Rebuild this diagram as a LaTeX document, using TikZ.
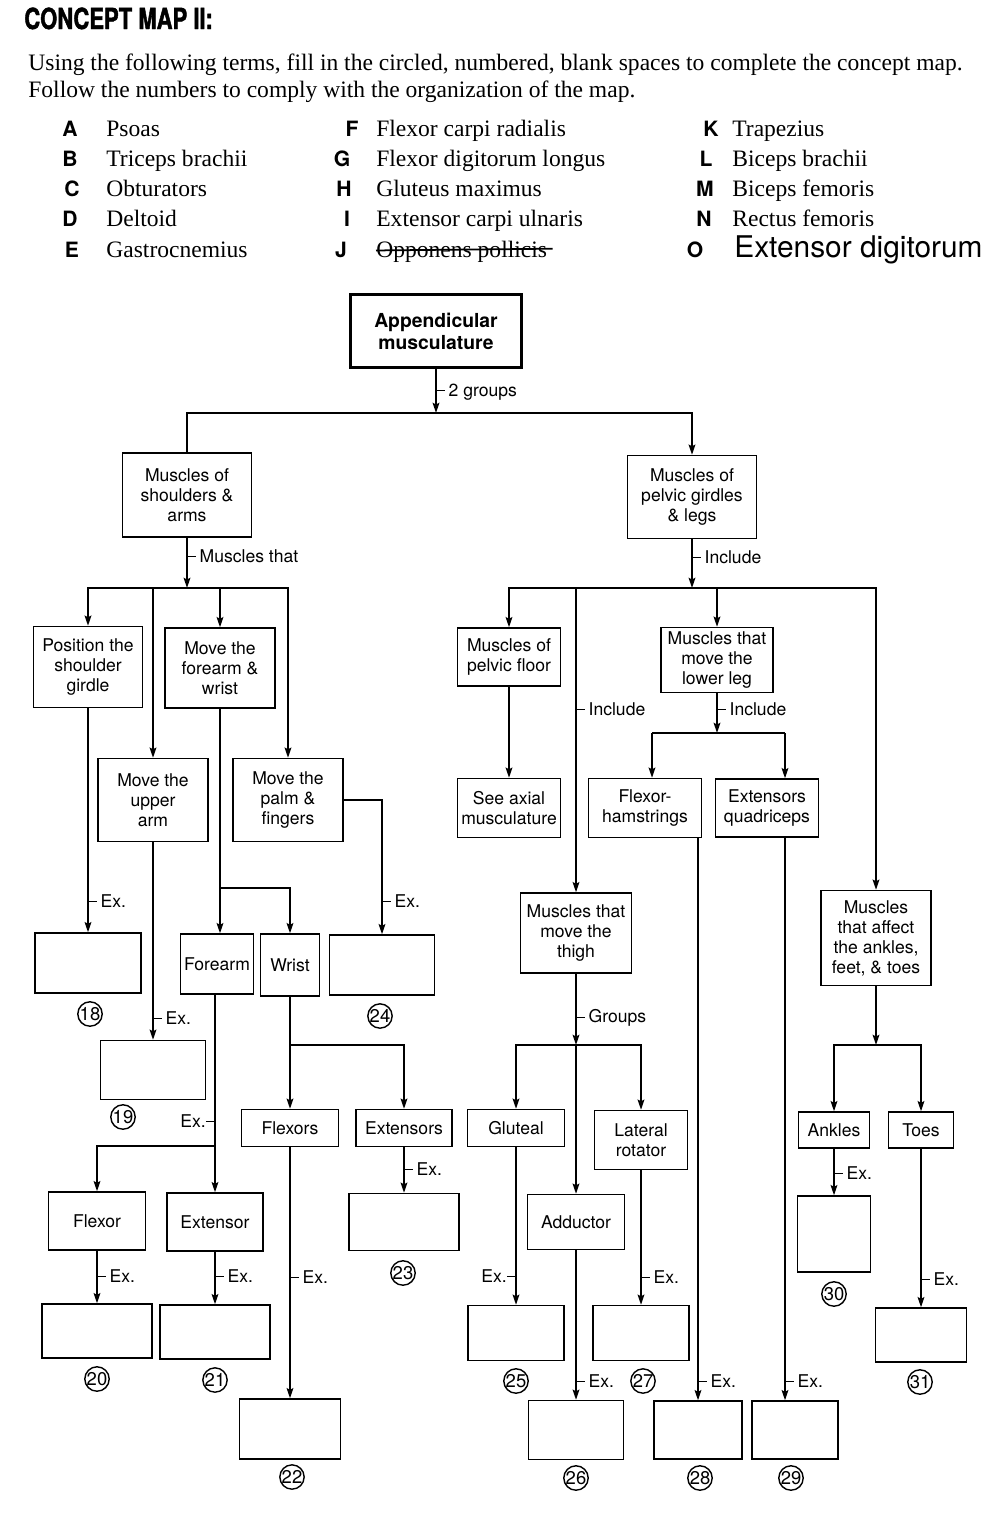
\documentclass[tikz,border=0pt]{standalone}
\usepackage{fontspec}
\usetikzlibrary{arrows.meta}
\setmainfont{Liberation Serif}
\newfontfamily\hv{TeX Gyre Heros}
\newfontfamily\hd[FakeStretch=0.76,BoldFeatures={FakeBold=1.5}]{TeX Gyre Heros}
\newcommand{\tk}{\rule[0.55ex]{5pt}{0.6pt}\hspace{2pt}}
\newcommand{\bx}{\hv\fontsize{10}{11.4}\selectfont}

\begin{document}
\begin{tikzpicture}[x=0.02cm, y=-0.02cm, >={Stealth[length=5.8pt,width=3.8pt,inset=1pt]},
    box/.style={draw, line width=0.8pt, align=center, inner sep=0pt, font=\bx},
    sz/.style 2 args={minimum width=#1*0.02cm, minimum height=#2*0.02cm},
    blank/.style={draw, line width=0.8pt, inner sep=0pt},
    num/.style={draw, circle, line width=0.8pt, inner sep=0pt, minimum size=0.48cm, font=\hv\fontsize{10.5}{10.5}\selectfont},
    ex/.style={anchor=west, inner sep=0pt, font=\bx},
    exl/.style={anchor=east, inner sep=0pt, font=\bx},
    con/.style={line width=1.1pt},
    term/.style={anchor=base west, inner sep=0pt, font=\fontsize{13.4}{15}\selectfont},
    ltr/.style={anchor=base, inner sep=0pt, font=\hv\bfseries\fontsize{12}{12}\selectfont}]
\useasboundingbox (0,0) rectangle (992,1518);

% Encabezado
\node[anchor=base west, inner sep=0pt, font=\hd\bfseries\fontsize{16.5}{16}\selectfont] (tit) at (24,29) {CONCEPT MAP II:};
\node[term] (ins1) at (28,70) {Using the following terms, fill in the circled, numbered, blank spaces to complete the concept map.};
\node[term] (ins2) at (28,97) {Follow the numbers to comply with the organization of the map.};

% Términos
\node[ltr] (la) at (70,136) {A};  \node[term] (ta) at (106,136) {Psoas};
\node[ltr] (lb) at (70,166) {B};  \node[term] (tb) at (106,166) {Triceps brachii};
\node[ltr] (lc) at (72,196) {C};  \node[term] (tc) at (106,196) {Obturators};
\node[ltr] (ld) at (70,226) {D};  \node[term] (td) at (106,226) {Deltoid};
\node[ltr] (le) at (72,257) {E};  \node[term] (te) at (106,257) {Gastrocnemius};
\node[ltr] (lf) at (352,136) {F}; \node[term] (tf) at (376,136) {Flexor carpi radialis};
\node[ltr] (lg) at (342,166) {G}; \node[term] (tg) at (376,166) {Flexor digitorum longus};
\node[ltr] (lh) at (344,196) {H}; \node[term] (th) at (376,196) {Gluteus maximus};
\node[ltr] (li) at (347,226) {I}; \node[term] (ti) at (376,226) {Extensor carpi ulnaris};
\node[ltr] (lj) at (341,257) {J}; \node[term] (tj) at (376,257) {Opponens pollicis};
\draw[line width=1pt] ([yshift=0.5pt]tj.west) -- ([xshift=3pt,yshift=1.5pt]tj.east);
\node[ltr] (lk) at (711,136) {K}; \node[term] (tk) at (732,136) {Trapezius};
\node[ltr] (ll) at (706,166) {L}; \node[term] (tl) at (732,166) {Biceps brachii};
\node[ltr] (lm) at (705,196) {M}; \node[term] (tm) at (732,196) {Biceps femoris};
\node[ltr] (ln) at (704,226) {N}; \node[term] (tn) at (732,226) {Rectus femoris};
\node[ltr] (lo) at (695,257) {O}; \node[anchor=base west, inner sep=0pt, font=\hv\fontsize{17}{17}\selectfont] (to) at (734,257) {Extensor digitorum};

% Cajas de texto
\node[box, sz={171}{73}, line width=1.8pt, font=\hv\bfseries\fontsize{11}{12.5}\selectfont] (app) at (436,331) {Appendicular\\musculature};
\node[box, sz={129}{84}] (sa) at (187,495) {Muscles of\\shoulders \&\\arms};
\node[box, sz={129}{83}] (pg) at (692,497) {Muscles of\\pelvic girdles\\\& legs};
\node[box, sz={109}{81}] (psg) at (88,667) {Position the\\shoulder\\girdle};
\node[box, sz={110}{80}] (mfw) at (220,668) {Move the\\forearm \&\\wrist};
\node[box, sz={110}{83}] (mua) at (153,800) {Move the\\upper\\arm};
\node[box, sz={110}{83}] (mpf) at (288,800) {Move the\\palm \&\\fingers};
\node[box, sz={73}{60}] (fa) at (217,964) {Forearm};
\node[box, sz={59}{62}] (wr) at (290,965) {Wrist};
\node[box, sz={97}{58}] (flx) at (97,1221) {Flexor};
\node[box, sz={96}{58}] (ext) at (215,1222) {Extensor};
\node[box, sz={97}{37}] (fls) at (290,1128) {Flexors};
\node[box, sz={96}{37}] (exs) at (404,1128) {Extensors};
\node[box, sz={103}{58}] (pfl) at (509,657) {Muscles of\\pelvic floor};
\node[box, sz={112}{65}] (mll) at (717,660) {Muscles that\\move the\\lower leg};
\node[box, sz={103}{59}] (sax) at (509,808) {See axial\\musculature};
\node[box, sz={113}{59}] (fh) at (645,808) {Flexor-\\hamstrings};
\node[box, sz={103}{58}] (eq) at (767,808) {Extensors\\quadriceps};
\node[box, sz={111}{80}] (mth) at (576,933) {Muscles that\\move the\\thigh};
\node[box, sz={110}{95}] (maf) at (876,938) {Muscles\\that affect\\the ankles,\\feet, \& toes};
\node[box, sz={97}{37}] (glu) at (516,1128) {Gluteal};
\node[box, sz={93}{59}] (lat) at (641,1140) {Lateral\\rotator};
\node[box, sz={97}{55}] (add) at (576,1222) {Adductor};
\node[box, sz={71}{36}] (ank) at (834,1130) {Ankles};
\node[box, sz={65}{36}] (toe) at (921,1130) {Toes};

% Cajas en blanco
\node[blank, sz={106}{60}] (b18) at (88,963) {};
\node[blank, sz={105}{59}] (b19) at (153,1070) {};
\node[blank, sz={105}{60}] (b24) at (382,965) {};
\node[blank, sz={110}{54}] (b20) at (97,1331) {};
\node[blank, sz={110}{54}] (b21) at (215,1332) {};
\node[blank, sz={101}{60}] (b22) at (290,1429) {};
\node[blank, sz={110}{57}] (b23) at (404,1222) {};
\node[blank, sz={96}{55}] (b25) at (516,1333) {};
\node[blank, sz={95}{59}] (b26) at (576,1430) {};
\node[blank, sz={96}{55}] (b27) at (641,1333) {};
\node[blank, sz={88}{58}] (b28) at (698,1430) {};
\node[blank, sz={86}{58}] (b29) at (795,1430) {};
\node[blank, sz={73}{76}] (b30) at (834,1234) {};
\node[blank, sz={91}{54}] (b31) at (921,1335) {};

% Números
\node[num] (c18) at (90,1014) {18};
\node[num] (c19) at (123,1117) {19};
\node[num] (c24) at (380,1016) {24};
\node[num] (c20) at (97,1379) {20};
\node[num] (c21) at (215,1380) {21};
\node[num] (c22) at (292,1477) {22};
\node[num] (c23) at (403,1273) {23};
\node[num] (c25) at (516,1381) {25};
\node[num] (c26) at (576,1478) {26};
\node[num] (c27) at (643,1381) {27};
\node[num] (c28) at (700,1478) {28};
\node[num] (c29) at (791,1478) {29};
\node[num] (c30) at (834,1294) {30};
\node[num] (c31) at (920,1382) {31};

% Raíz
\coordinate (j0) at (436,413);
\draw[con,->] (app) -- (j0);
\node[ex] (l0) at (436,392) {\tk 2 groups};
\draw[con] (j0) -| (sa);
\draw[con,->] (j0) -| (pg);

% Hombros y brazos
\coordinate (j1) at (187,588);
\draw[con,->] (sa) -- (j1);
\node[ex] (l1) at (187,556) {\tk Muscles that};
\draw[con,->] (j1) -| (psg);
\draw[con,->] (j1) -| (mua);
\draw[con,->] (j1) -| (mfw);
\draw[con,->] (j1) -| (mpf);
\draw[con,->] (psg) -- (b18);
\node[ex] (l18) at (88,901) {\tk Ex.};
\draw[con,->] (mua) -- (b19);
\node[ex] (l19) at (153,1018) {\tk Ex.};
\draw[con,->] (mpf) -| (b24);
\node[ex] (l24) at (382,901) {\tk Ex.};
\coordinate (j2) at (220,888);
\draw[con] (mfw) -- (j2);
\draw[con,->] (j2) -- (j2 |- fa.north);
\draw[con,->] (j2) -| (wr);
\coordinate (j3) at (215,1146);
\draw[con] (fa.south -| j3) -- (j3);
\node[exl] (l3) at (215,1121) {Ex.\tk};
\draw[con,->] (j3) -- (ext);
\draw[con,->] (j3) -| (flx);
\draw[con,->] (flx) -- (b20);
\node[ex] (l20) at (97,1276) {\tk Ex.};
\draw[con,->] (ext) -- (b21);
\node[ex] (l21) at (215,1276) {\tk Ex.};
\coordinate (j4) at (290,1045);
\draw[con] (wr) -- (j4);
\draw[con,->] (j4) -- (fls);
\draw[con,->] (j4) -| (exs);
\draw[con,->] (fls) -- (b22);
\node[ex] (l22) at (290,1277) {\tk Ex.};
\draw[con,->] (exs) -- (b23);
\node[ex] (l23) at (404,1169) {\tk Ex.};

% Cintura pélvica y piernas
\coordinate (j5) at (692,588);
\draw[con,->] (pg) -- (j5);
\node[ex] (l5) at (692,557) {\tk Include};
\draw[con,->] (j5) -| (pfl);
\draw[con,->] (j5) -| (mth);
\node[ex] (l5b) at (576,709) {\tk Include};
\draw[con,->] (j5) -| (mll);
\draw[con,->] (j5) -| (maf);
\draw[con,->] (pfl) -- (sax);
\coordinate (j6) at (717,733);
\coordinate (j6a) at (652,733);
\coordinate (j6b) at (785,733);
\draw[con,->] (mll) -- (j6);
\node[ex] (l6) at (717,709) {\tk Include};
\draw[con] (j6a) -- (j6b);
\draw[con,->] (j6a) -- (j6a |- fh.north);
\draw[con,->] (j6b) -- (j6b |- eq.north);
\draw[con,->] (fh.south -| b28) -- (b28);
\node[ex] (l28) at (698,1381) {\tk Ex.};
\draw[con,->] (eq.south -| j6b) -- (j6b |- b29.north);
\node[ex] (l29) at (785,1381) {\tk Ex.};
\coordinate (j7) at (576,1045);
\draw[con,->] (mth) -- (j7);
\node[ex] (l7) at (576,1018) {\tk Groups};
\draw[con,->] (j7) -| (glu);
\draw[con,->] (j7) -| (lat);
\draw[con,->] (j7) -- (add);
\draw[con,->] (glu) -- (b25);
\node[exl] (l25) at (516,1276) {Ex.\tk};
\draw[con,->] (lat) -- (b27);
\node[ex] (l27) at (641,1277) {\tk Ex.};
\draw[con,->] (add) -- (b26);
\node[ex] (l26) at (576,1381) {\tk Ex.};
\coordinate (j8) at (876,1045);
\draw[con,->] (maf) -- (j8);
\draw[con,->] (j8) -| (ank);
\draw[con,->] (j8) -| (toe);
\draw[con,->] (ank) -- (b30);
\node[ex] (l30) at (834,1173) {\tk Ex.};
\draw[con,->] (toe) -- (b31);
\node[ex] (l31) at (921,1279) {\tk Ex.};
\end{tikzpicture}
\end{document}
